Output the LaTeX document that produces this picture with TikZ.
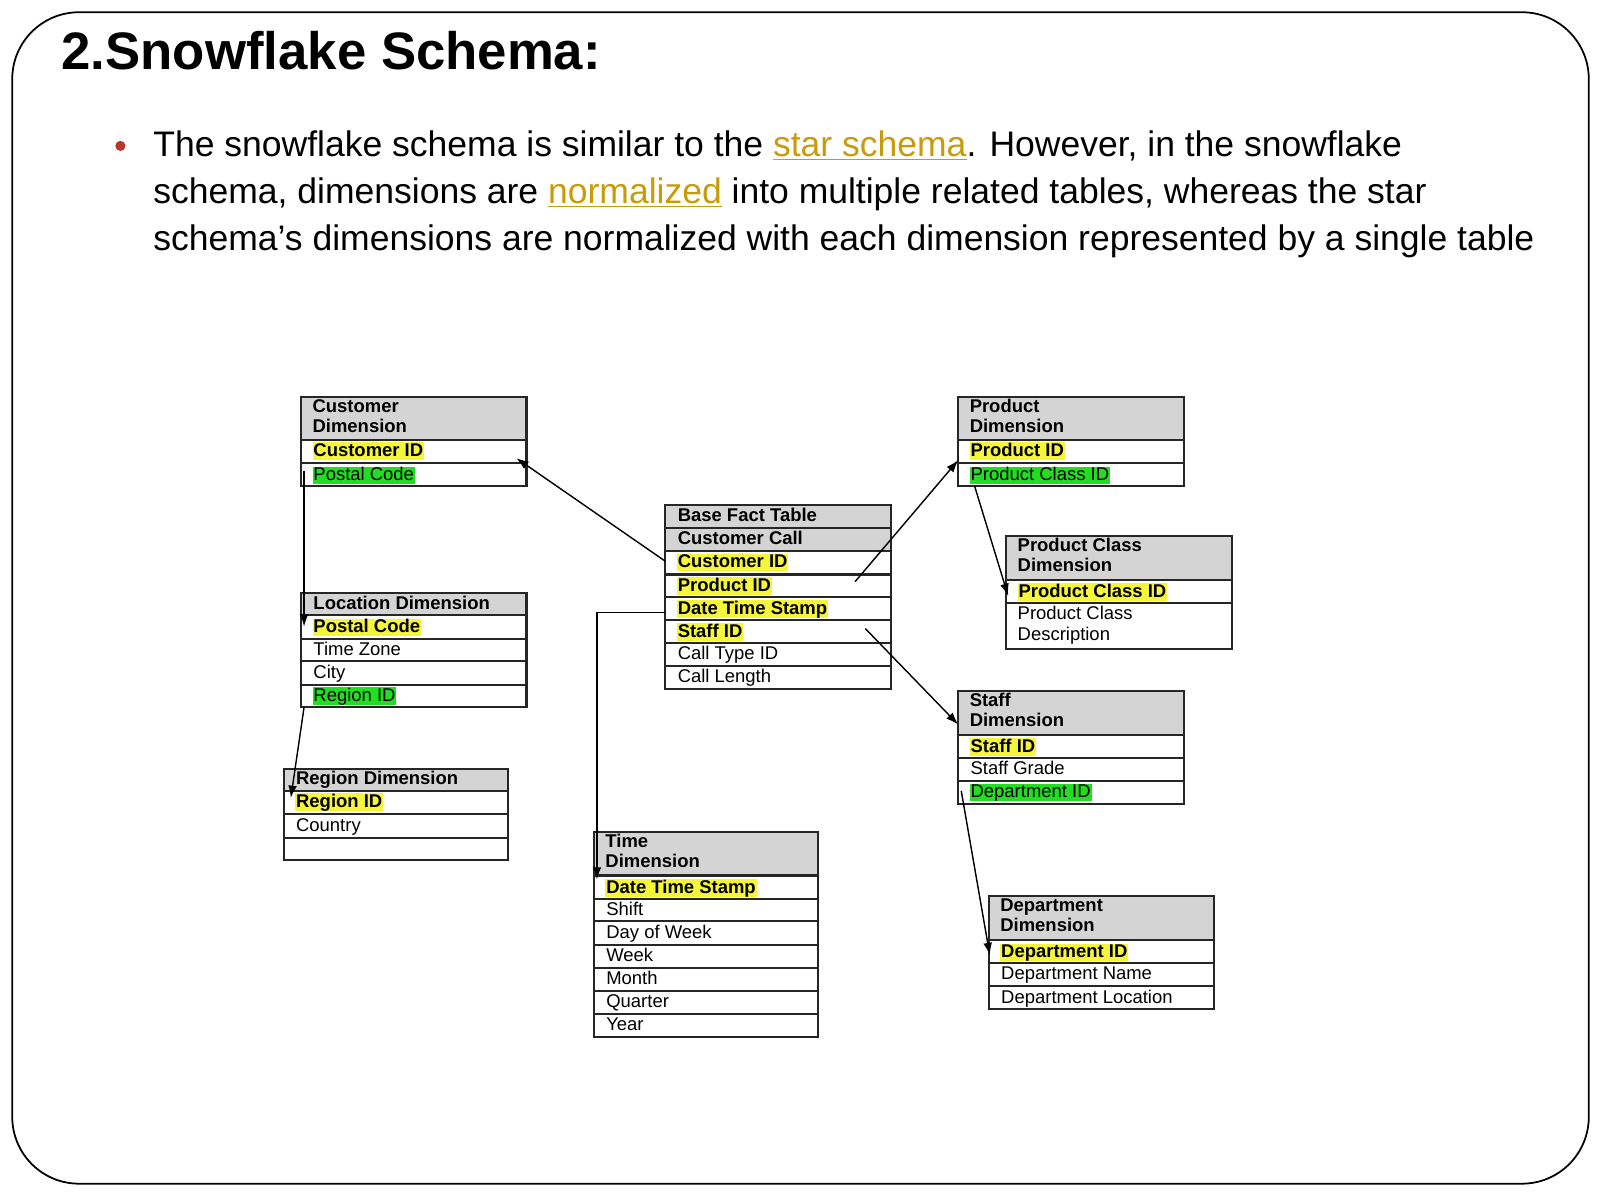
\documentclass[tikz,border=0pt]{standalone}
\usepackage{fontspec}
\setmainfont{Liberation Sans}
\usetikzlibrary{arrows.meta}
\definecolor{hdr}{HTML}{D4D4D4}
\definecolor{hy}{HTML}{F5F53C}
\definecolor{hg}{HTML}{22DD22}
\definecolor{lnk}{HTML}{C89B0A}
\definecolor{bul}{HTML}{B03A2E}
\newcommand{\lk}[1]{\textcolor{lnk}{\underline{#1}}}
\newcommand{\trow}[7]{% name, x1, x2, y1, y2, unused, fill
  \draw[tbl,fill=#7] (#2,#4) rectangle (#3,#5);
  \coordinate (#1) at (#2,#4);}
\begin{document}
\begin{tikzpicture}[x=0.0204cm,y=-0.0204cm,
  tbl/.style={draw=black!85,line width=1.2pt},
  tx/.style={anchor=west,font=\fontsize{10.5}{11}\selectfont,inner sep=0.5pt,text depth=0.15em},
  bx/.style={tx,font=\fontsize{10.5}{11}\selectfont\bfseries},
  hl/.style={tx,font=\fontsize{10.5}{11}\selectfont\bfseries,fill=hy},
  gl/.style={tx,fill=hg},
  hd/.style={anchor=north west,font=\fontsize{10.5}{11.5}\selectfont\bfseries,inner sep=0pt,align=left},
  conn/.style={draw=black,line width=0.8pt,-{Latex[length=7pt,width=5pt]}}]
\useasboundingbox (0,0) rectangle (1568,1176);
\draw[line width=1pt,rounded corners=38] (12,12) rectangle (1557,1160);
\node[anchor=base west,font=\fontsize{30}{30}\selectfont\bfseries,inner sep=0] (title) at (60,68) {2.Snowflake Schema:};
\fill[bul] (118,143) circle (5);
\begin{scope}[every node/.style={anchor=base west,inner sep=0,font=\fontsize{20.2}{20.2}\selectfont}]
\node (l1) at (150,153) {The snowflake schema is similar to the \lk{star schema}. However, in the snowflake};
\node (l2) at (150,199) {schema, dimensions are \lk{normalized} into multiple related tables, whereas the star};
\node (l3) at (150,245) {schema{\char"0027}s dimensions are normalized with each dimension represented by a single table};
\end{scope}
% Customer Dimension
\trow{c0}{295}{516}{389}{431}{}{hdr}
\node[hd] at (306,391) {Customer\\Dimension};
\trow{c1}{295}{516}{431}{454}{}{white}\node[hl] at (306,442) {Customer ID};
\trow{c2}{295}{516}{454}{476}{}{white}\node[gl] at (306,466) {Postal Code};
% Location
\trow{l0}{295}{516}{581}{603}{}{hdr}\node[bx] at (306,592) {Location Dimension};
\trow{l1}{295}{516}{603}{626}{}{white}\node[hl] at (306,615) {Postal Code};
\trow{l2}{295}{516}{626}{648}{}{white}\node[tx] at (306,637) {Time Zone};
\trow{l3}{295}{516}{648}{671}{}{white}\node[tx] at (306,660) {City};
\trow{l4}{295}{516}{671}{693}{}{white}\node[gl] at (306,682) {Region ID};
% Region
\trow{r0}{278}{498}{754}{775}{}{hdr}\node[bx] at (289,764) {Region Dimension};
\trow{r1}{278}{498}{775}{798}{}{white}\node[hl] at (289,786) {Region ID};
\trow{r2}{278}{498}{798}{821}{}{white}\node[tx] at (289,810) {Country};
\trow{r3}{278}{498}{821}{843}{}{white}
% Fact
\trow{f0}{652}{873}{495}{517}{}{hdr}\node[bx] at (663,506) {Base Fact Table};
\trow{f1}{652}{873}{517}{540}{}{hdr}\node[bx] at (663,528) {Customer Call};
\trow{f2}{652}{873}{540}{563}{}{white}\node[hl] at (663,551) {Customer ID};
\trow{f3}{652}{873}{563}{585}{}{white}\node[hl] at (663,574) {Product ID};
\trow{f4}{652}{873}{585}{608}{}{white}\node[hl] at (663,597) {Date Time Stamp};
\trow{f5}{652}{873}{608}{630}{}{white}\node[hl] at (663,619) {Staff ID};
\trow{f6}{652}{873}{630}{653}{}{white}\node[tx] at (663,641) {Call Type ID};
\trow{f7}{652}{873}{653}{675}{}{white}\node[tx] at (663,664) {Call Length};
% Time
\trow{t0}{582}{802}{815}{858}{}{hdr}\node[hd] at (593,817) {Time\\Dimension};
\trow{t1}{582}{802}{858}{881}{}{white}\node[hl] at (593,870) {Date Time Stamp};
\trow{t2}{582}{802}{881}{903}{}{white}\node[tx] at (593,892) {Shift};
\trow{t3}{582}{802}{903}{926}{}{white}\node[tx] at (593,914) {Day of Week};
\trow{t4}{582}{802}{926}{949}{}{white}\node[tx] at (593,937) {Week};
\trow{t5}{582}{802}{949}{971}{}{white}\node[tx] at (593,960) {Month};
\trow{t6}{582}{802}{971}{994}{}{white}\node[tx] at (593,982) {Quarter};
\trow{t7}{582}{802}{994}{1016}{}{white}\node[tx] at (593,1005) {Year};
% Product
\trow{p0}{939}{1160}{389}{431}{}{hdr}\node[hd] at (950,391) {Product\\Dimension};
\trow{p1}{939}{1160}{431}{454}{}{white}\node[hl] at (950,442) {Product ID};
\trow{p2}{939}{1160}{454}{476}{}{white}\node[gl] at (950,466) {Product Class ID};
% Product Class
\trow{q0}{986}{1207}{525}{568}{}{hdr}\node[hd] at (997,527) {Product Class\\Dimension};
\trow{q1}{986}{1207}{568}{591}{}{white}\node[hl] at (997,580) {Product Class ID};
\trow{q2}{986}{1207}{591}{636}{}{white}\node[hd,font=\fontsize{10.5}{12}\selectfont] at (997,594) {Product Class\\Description};
% Staff
\trow{s0}{939}{1160}{677}{720}{}{hdr}\node[hd] at (950,679) {Staff\\Dimension};
\trow{s1}{939}{1160}{720}{743}{}{white}\node[hl] at (950,732) {Staff ID};
\trow{s2}{939}{1160}{743}{765}{}{white}\node[tx] at (950,754) {Staff Grade};
\trow{s3}{939}{1160}{765}{788}{}{white}\node[gl] at (950,777) {Department ID};
% Department
\trow{d0}{969}{1190}{878}{921}{}{hdr}\node[hd] at (980,880) {Department\\Dimension};
\trow{d1}{969}{1190}{921}{944}{}{white}\node[hl] at (980,933) {Department ID};
\trow{d2}{969}{1190}{944}{966}{}{white}\node[tx] at (980,955) {Department Name};
\trow{d3}{969}{1190}{966}{989}{}{white}\node[tx] at (980,978) {Department Location};
% connector end points
\coordinate (a1) at (652,550); \coordinate (b1) at (506,449);
\coordinate (a2) at (298,462); \coordinate (b2) at (298,614);
\coordinate (a3) at (298,693); \coordinate (b3) at (285,782);
\coordinate (a4) at (838,570); \coordinate (b4) at (939,451);
\coordinate (a5) at (955,476); \coordinate (b5) at (988,584);
\coordinate (a6) at (848,616); \coordinate (b6) at (939,710);
\coordinate (a7) at (942,775); \coordinate (b7) at (970,936);
\coordinate (a8) at (652,600); \coordinate (m8) at (585,600); \coordinate (b8) at (585,862);
\draw[conn] (a1) -- (b1);
\draw[conn] (a2) -- (b2);
\draw[conn] (a3) -- (b3);
\draw[conn] (a4) -- (b4);
\draw[conn] (a5) -- (b5);
\draw[conn] (a6) -- (b6);
\draw[conn] (a7) -- (b7);
\draw[conn] (a8) -- (m8) -- (b8);
\end{tikzpicture}
\end{document}
